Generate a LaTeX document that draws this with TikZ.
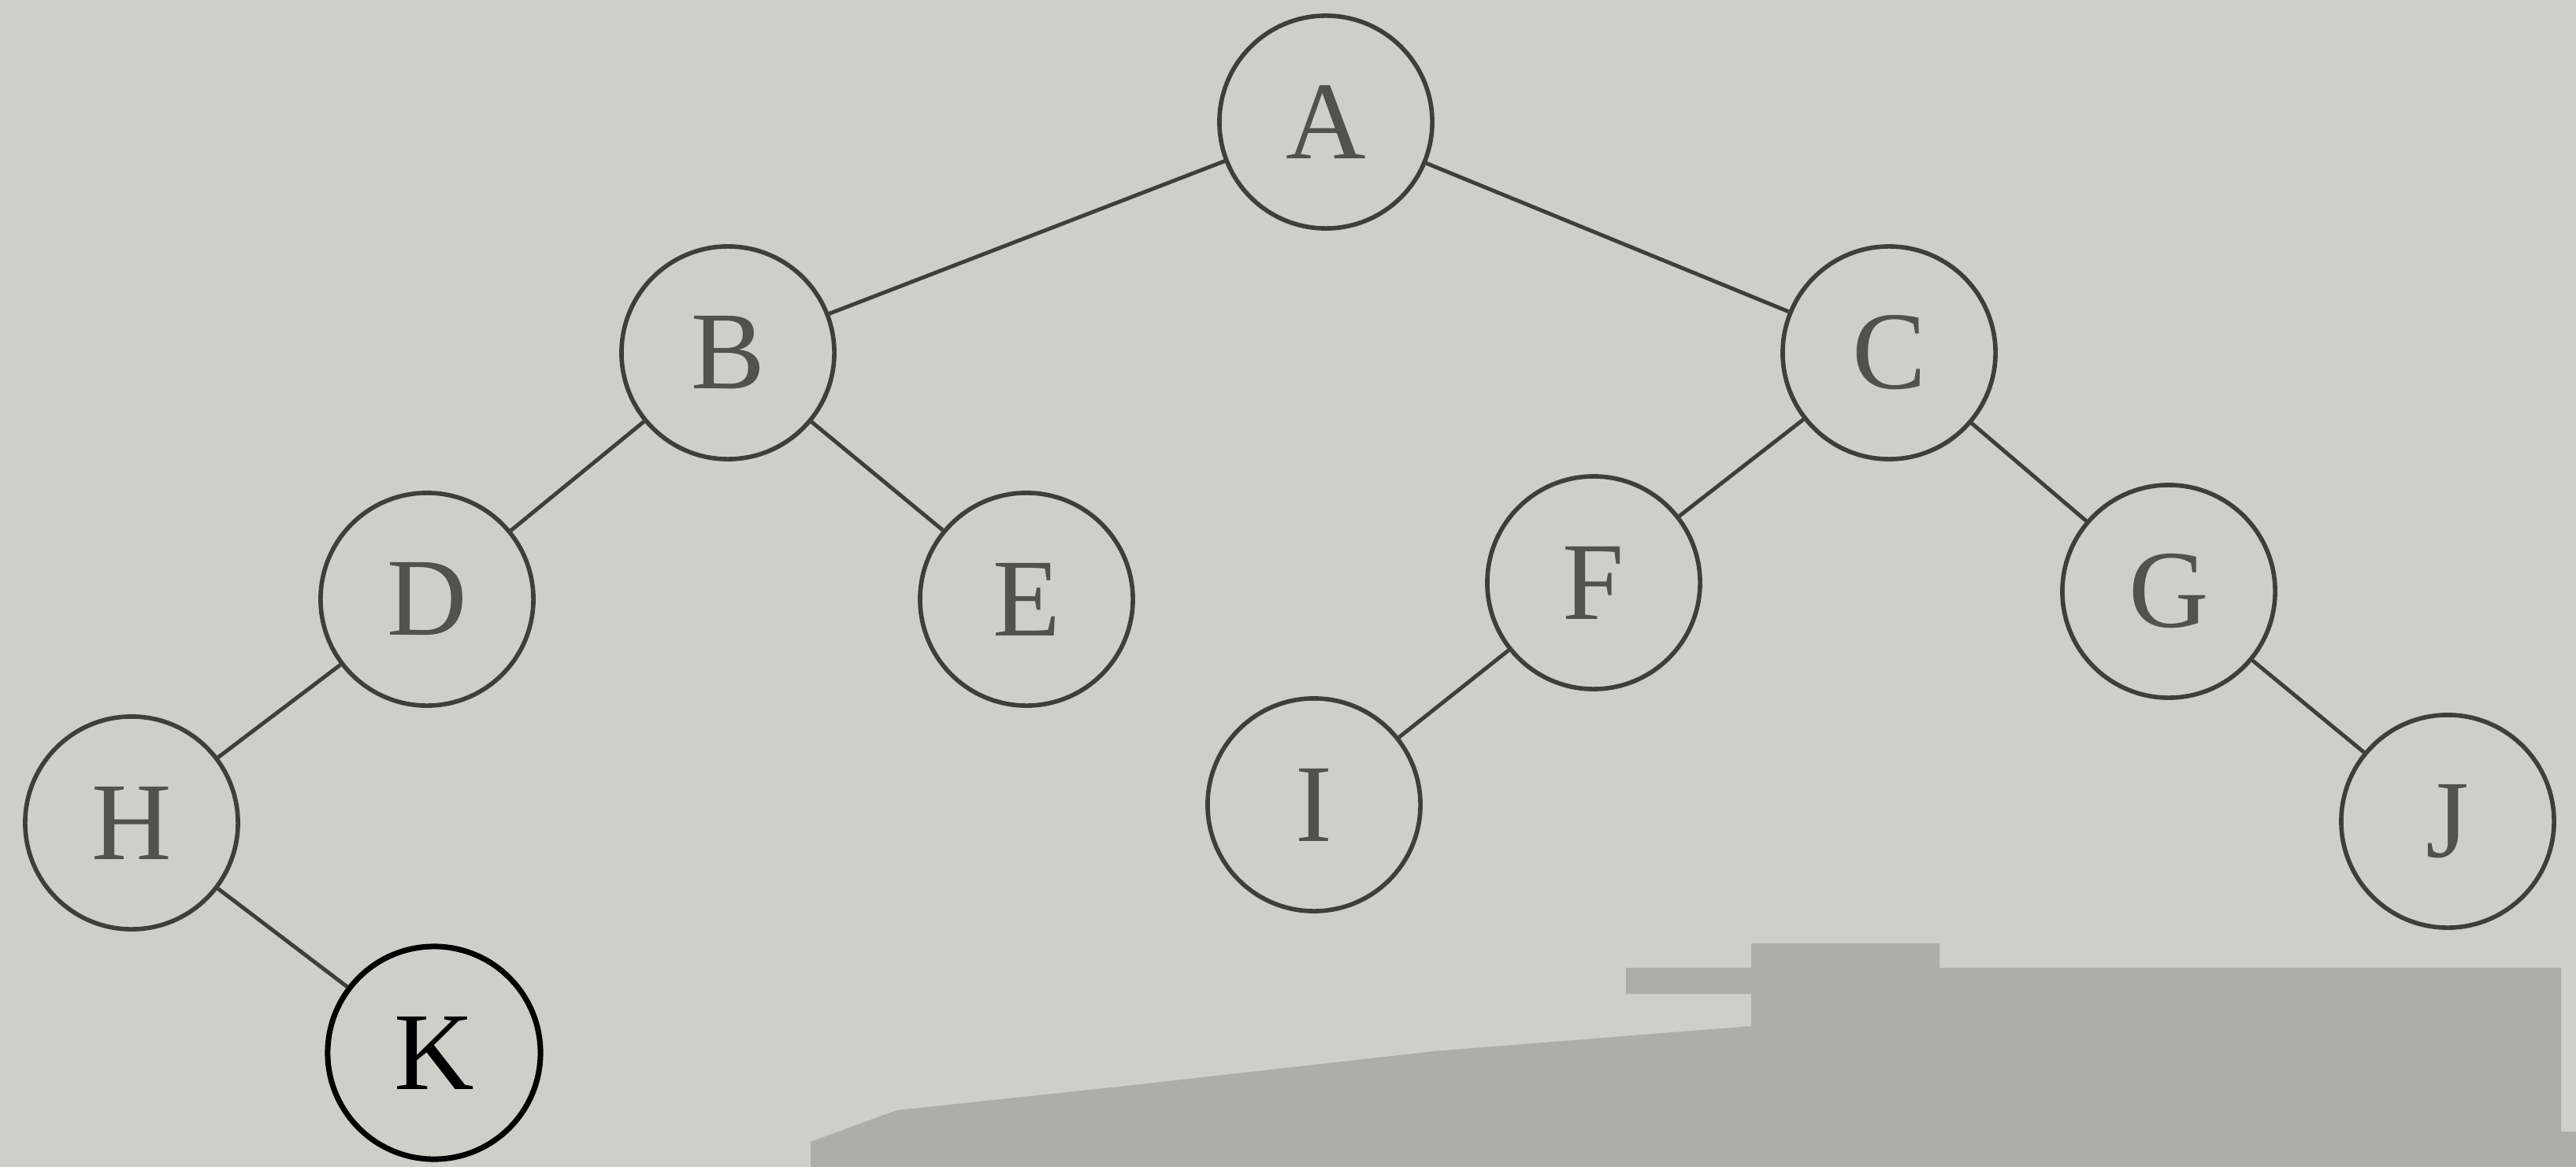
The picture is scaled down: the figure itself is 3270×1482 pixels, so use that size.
\documentclass[tikz,border=0pt]{standalone}
\usepackage{fontspec}
\setmainfont{Liberation Serif}
\definecolor{paper}{RGB}{206,206,202}
\definecolor{patch}{RGB}{174,174,169}
\definecolor{ink}{RGB}{62,62,60}
\begin{document}
\begin{tikzpicture}[x=0.01cm,y=-0.01cm,
  tnode/.style={circle,draw=ink,line width=1.6pt,minimum size=2.7cm,inner sep=0pt,
    font=\fontsize{40}{40}\selectfont,text=ink!90},
  knode/.style={tnode,draw=black,line width=2pt,text=black},
  edge/.style={draw=ink,line width=1.4pt}]
\fill[paper] (0,0) rectangle (3270,1482);
\useasboundingbox (0,0) rectangle (3270,1482);
\fill[patch] (1029,1482) -- (1029,1450) -- (1138,1410) -- (1420,1380) -- (1820,1335) -- (2223,1303) -- (2223,1262) -- (2064,1262) -- (2064,1229) -- (2223,1229) -- (2223,1198) -- (2462,1198) -- (2462,1229) -- (3251,1229) -- (3251,1437) -- (3270,1437) -- (3270,1482) -- cycle;
\node[tnode] (A) at (1683,155) {A};
\node[tnode] (B) at (924,448) {B};
\node[tnode] (C) at (2398,448) {C};
\node[tnode] (D) at (542,761) {D};
\node[tnode] (E) at (1303,761) {E};
\node[tnode] (F) at (2023,740) {F};
\node[tnode] (G) at (2753,751) {G};
\node[tnode] (H) at (167,1045) {H};
\node[tnode] (I) at (1668,1022) {I};
\node[tnode] (J) at (3107,1043) {J};
\node[knode] (K) at (551,1337) {K};
\draw[edge] (A) -- (B);
\draw[edge] (A) -- (C);
\draw[edge] (B) -- (D);
\draw[edge] (B) -- (E);
\draw[edge] (C) -- (F);
\draw[edge] (C) -- (G);
\draw[edge] (D) -- (H);
\draw[edge] (F) -- (I);
\draw[edge] (G) -- (J);
\draw[edge] (H) -- (K);
\end{tikzpicture}
\end{document}
